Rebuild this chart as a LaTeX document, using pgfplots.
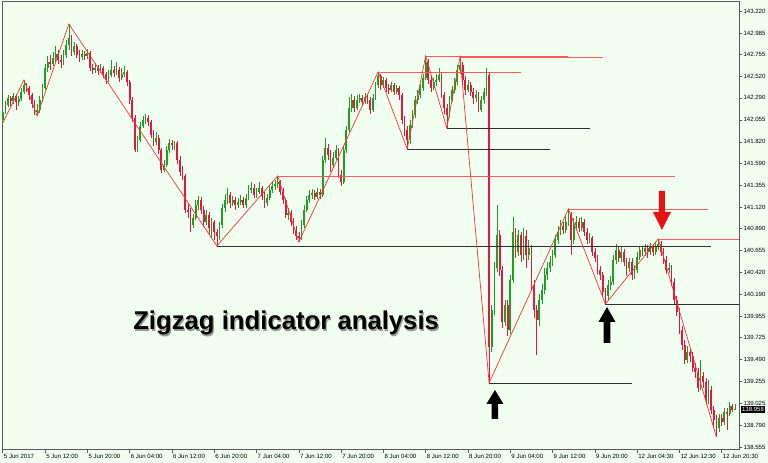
\documentclass[border=0pt]{standalone}
\usepackage{fontspec}
\setmainfont{Liberation Sans}
\usepackage{pgfplots}
\pgfplotsset{compat=1.18}
\usepackage{pgfplotstable}

\definecolor{bg}{HTML}{F0FFF0}
\definecolor{bull}{HTML}{219E21}
\definecolor{bear}{HTML}{E8163E}
\definecolor{arrowred}{HTML}{E81212}
\definecolor{zz}{HTML}{FF3030}
\definecolor{lvlred}{HTML}{FF5A5A}
\definecolor{lvlblk}{HTML}{303030}
\definecolor{axisgray}{HTML}{5A5A5A}

% GBPJPY M30 bars closing up: index, open, high, low, close
\pgfplotstableread{
i o h l c
0 142.054 142.172 142.022 142.140
1 142.140 142.257 142.118 142.215
2 142.215 142.322 142.193 142.289
4 142.257 142.343 142.225 142.311
6 142.247 142.311 142.204 142.279
7 142.279 142.396 142.257 142.354
8 142.354 142.482 142.332 142.429
13 142.140 142.225 142.097 142.161
14 142.161 142.311 142.129 142.268
15 142.268 142.439 142.247 142.396
16 142.396 142.653 142.375 142.610
17 142.610 142.739 142.568 142.675
19 142.653 142.782 142.632 142.717
20 142.717 142.846 142.675 142.760
23 142.675 142.803 142.643 142.750
24 142.750 142.910 142.717 142.857
25 142.857 143.081 142.803 142.931
27 142.782 142.889 142.750 142.846
30 142.728 142.803 142.696 142.760
32 142.739 142.814 142.707 142.771
35 142.589 142.664 142.557 142.610
37 142.578 142.653 142.557 142.610
40 142.482 142.589 142.461 142.536
41 142.536 142.696 142.514 142.589
43 142.557 142.675 142.536 142.589
45 142.503 142.610 142.482 142.546
46 142.546 142.632 142.514 142.568
51 141.733 141.883 141.712 141.840
52 141.840 142.032 141.819 141.990
53 141.990 142.097 141.968 142.054
54 142.054 142.118 142.011 142.075
58 141.819 141.926 141.787 141.861
61 141.519 141.626 141.498 141.573
62 141.573 141.776 141.551 141.733
63 141.733 141.851 141.701 141.808
65 141.787 141.829 141.733 141.808
72 140.931 141.048 140.898 141.005
73 141.005 141.198 140.984 141.145
74 141.145 141.241 141.091 141.198
77 140.963 141.091 140.931 141.038
79 140.898 141.005 140.791 140.963
82 140.813 140.963 140.770 140.931
83 140.931 141.155 140.898 141.112
84 141.112 141.262 141.070 141.198
85 141.198 141.326 141.155 141.252
87 141.166 141.241 141.134 141.198
89 141.145 141.219 141.112 141.177
90 141.177 141.252 141.145 141.198
92 141.145 141.262 141.112 141.219
93 141.219 141.359 141.198 141.305
94 141.305 141.391 141.273 141.326
96 141.252 141.326 141.219 141.284
97 141.284 141.391 141.262 141.326
100 141.166 141.262 141.134 141.219
101 141.219 141.348 141.198 141.305
102 141.305 141.391 141.273 141.348
103 141.348 141.412 141.305 141.369
104 141.369 141.455 141.326 141.391
108 141.038 141.112 140.984 141.059
113 140.791 140.984 140.770 140.931
114 140.931 141.145 140.898 141.091
115 141.091 141.241 141.070 141.198
116 141.198 141.305 141.166 141.252
117 141.252 141.316 141.209 141.273
119 141.230 141.326 141.209 141.284
121 141.252 141.669 141.230 141.626
122 141.626 141.861 141.594 141.754
125 141.573 141.712 141.540 141.647
126 141.647 141.787 141.626 141.733
129 141.391 141.776 141.369 141.733
130 141.733 141.990 141.701 141.947
131 141.947 142.300 141.926 142.182
132 142.182 142.332 142.140 142.268
134 142.182 142.322 142.161 142.268
135 142.268 142.332 142.236 142.289
137 142.247 142.343 142.225 142.300
140 142.161 142.332 142.140 142.289
141 142.289 142.461 142.268 142.429
142 142.429 142.568 142.396 142.525
144 142.429 142.514 142.396 142.482
147 142.375 142.461 142.354 142.429
149 142.354 142.429 142.332 142.396
154 141.840 142.054 141.797 142.001
155 142.001 142.161 141.968 142.108
156 142.108 142.311 142.075 142.268
157 142.268 142.375 142.225 142.322
158 142.322 142.439 142.289 142.396
159 142.396 142.546 142.364 142.503
160 142.503 142.739 142.482 142.675
163 142.396 142.503 142.375 142.461
164 142.461 142.546 142.418 142.482
165 142.482 142.610 142.461 142.536
169 142.108 142.311 142.075 142.268
170 142.268 142.418 142.247 142.375
171 142.375 142.503 142.343 142.461
172 142.461 142.643 142.429 142.589
173 142.589 142.728 142.546 142.643
176 142.375 142.482 142.354 142.429
179 142.289 142.375 142.247 142.322
181 142.161 142.311 142.140 142.268
182 142.268 142.396 142.225 142.354
183 142.354 142.610 142.311 142.536
185 139.625 140.075 139.572 140.021
186 140.021 140.535 139.968 140.470
187 140.470 141.145 140.428 140.824
190 139.893 140.128 139.850 140.075
192 139.807 140.396 139.764 140.342
193 140.342 141.016 140.310 140.856
195 140.642 140.877 140.599 140.824
197 140.610 140.898 140.556 140.813
199 140.610 140.770 140.556 140.684
203 139.914 140.192 139.850 140.128
204 140.128 140.299 140.085 140.235
205 140.235 140.470 140.192 140.396
206 140.396 140.535 140.342 140.470
207 140.470 140.599 140.428 140.535
208 140.535 140.663 140.492 140.610
209 140.610 140.824 140.577 140.770
210 140.770 140.920 140.727 140.856
211 140.856 140.984 140.824 140.920
213 140.877 141.027 140.845 140.963
214 140.963 141.102 140.920 141.048
216 140.770 141.005 140.727 140.931
217 140.931 141.027 140.877 140.963
219 140.898 141.016 140.866 140.963
222 140.770 140.845 140.738 140.791
229 140.171 140.342 140.128 140.289
230 140.289 140.385 140.235 140.321
231 140.321 140.610 140.289 140.556
232 140.556 140.727 140.513 140.663
234 140.577 140.695 140.535 140.642
237 140.470 140.577 140.428 140.535
239 140.396 140.503 140.353 140.449
240 140.449 140.642 140.417 140.588
241 140.588 140.706 140.556 140.663
243 140.642 140.727 140.599 140.684
245 140.642 140.738 140.610 140.695
247 140.642 140.749 140.610 140.706
248 140.706 140.781 140.663 140.727
252 140.449 140.524 140.417 140.470
259 139.486 139.636 139.454 139.572
264 139.186 139.486 139.165 139.315
267 139.058 139.272 139.015 139.165
271 138.758 138.908 138.716 138.865
273 138.823 138.972 138.791 138.930
275 138.908 139.037 138.887 138.994
277 138.954 139.016 138.950 138.958
}\bullbars

% GBPJPY M30 bars closing down
\pgfplotstableread{
i o h l c
3 142.289 142.311 142.204 142.257
5 142.311 142.332 142.161 142.247
9 142.429 142.450 142.354 142.396
10 142.396 142.418 142.268 142.322
11 142.322 142.343 142.182 142.225
12 142.225 142.268 142.108 142.140
18 142.675 142.750 142.589 142.653
21 142.760 142.803 142.653 142.696
22 142.696 142.750 142.610 142.675
26 142.931 142.964 142.739 142.782
28 142.846 142.867 142.717 142.750
29 142.750 142.803 142.675 142.728
31 142.760 142.792 142.696 142.739
33 142.771 142.792 142.578 142.610
34 142.610 142.653 142.546 142.589
36 142.610 142.643 142.536 142.578
38 142.610 142.632 142.503 142.546
39 142.546 142.568 142.439 142.482
42 142.589 142.632 142.514 142.557
44 142.589 142.621 142.461 142.503
47 142.568 142.589 142.418 142.461
48 142.461 142.482 142.225 142.268
49 142.268 142.300 142.032 142.075
50 142.075 142.108 141.712 141.733
55 142.075 142.108 141.990 142.032
56 142.032 142.054 141.861 141.894
57 141.894 141.947 141.776 141.819
59 141.861 141.894 141.690 141.733
60 141.733 141.754 141.487 141.519
64 141.808 141.840 141.733 141.787
66 141.808 141.829 141.583 141.626
67 141.626 141.669 141.455 141.498
68 141.498 141.562 141.412 141.455
69 141.455 141.476 141.059 141.091
70 141.091 141.155 141.005 141.070
71 141.070 141.112 140.856 140.931
75 141.198 141.230 141.048 141.091
76 141.091 141.134 140.909 140.963
78 141.038 141.070 140.834 140.898
80 140.963 140.984 140.770 140.856
81 140.856 140.888 140.706 140.813
86 141.252 141.284 141.112 141.166
88 141.198 141.230 141.091 141.145
91 141.198 141.230 141.112 141.145
95 141.326 141.369 141.219 141.252
98 141.326 141.348 141.198 141.241
99 141.241 141.284 141.112 141.166
105 141.391 141.412 141.252 141.284
106 141.284 141.326 141.155 141.198
107 141.198 141.219 141.005 141.038
109 141.059 141.091 140.920 140.963
110 140.963 141.005 140.834 140.877
111 140.877 140.920 140.770 140.813
112 140.813 140.856 140.749 140.791
118 141.273 141.305 141.198 141.230
120 141.284 141.316 141.209 141.252
123 141.754 141.797 141.626 141.680
124 141.680 141.733 141.498 141.573
127 141.733 141.754 141.433 141.465
128 141.465 141.519 141.348 141.391
133 142.268 142.311 142.140 142.182
136 142.289 142.322 142.204 142.247
138 142.300 142.332 142.225 142.268
139 142.268 142.300 142.118 142.161
143 142.525 142.546 142.375 142.429
145 142.482 142.503 142.354 142.396
146 142.396 142.439 142.332 142.375
148 142.429 142.450 142.322 142.354
150 142.396 142.418 142.268 142.322
151 142.322 142.343 142.011 142.054
152 142.054 142.097 141.883 141.947
153 141.947 141.990 141.744 141.840
161 142.675 142.707 142.439 142.482
162 142.482 142.525 142.354 142.396
166 142.536 142.568 142.289 142.322
167 142.322 142.354 142.118 142.182
168 142.182 142.225 141.968 142.108
174 142.643 142.675 142.439 142.482
175 142.482 142.525 142.322 142.375
177 142.429 142.461 142.311 142.354
178 142.354 142.396 142.225 142.289
180 142.322 142.354 142.140 142.161
184 142.536 142.557 139.240 139.625
188 140.824 140.877 140.385 140.449
189 140.449 140.492 139.828 139.893
191 140.075 140.128 139.743 139.807
194 140.856 140.898 140.577 140.642
196 140.824 140.856 140.535 140.610
198 140.813 140.877 140.470 140.610
200 140.684 140.717 140.235 140.289
201 140.289 140.342 139.936 140.021
202 140.021 140.075 139.540 139.914
212 140.920 140.963 140.834 140.877
215 141.048 141.070 140.610 140.770
218 140.963 141.005 140.856 140.898
220 140.963 140.995 140.813 140.856
221 140.856 140.898 140.727 140.770
223 140.791 140.813 140.599 140.642
224 140.642 140.684 140.535 140.577
225 140.577 140.610 140.406 140.449
226 140.449 140.492 140.342 140.396
227 140.396 140.428 140.171 140.214
228 140.214 140.256 140.085 140.171
233 140.663 140.706 140.535 140.577
235 140.642 140.674 140.492 140.535
236 140.535 140.577 140.385 140.470
238 140.535 140.577 140.342 140.396
242 140.663 140.706 140.599 140.642
244 140.684 140.717 140.577 140.642
246 140.695 140.727 140.599 140.642
249 140.727 140.759 140.599 140.642
250 140.642 140.684 140.513 140.556
251 140.556 140.599 140.406 140.449
253 140.470 140.503 140.278 140.321
254 140.321 140.363 140.085 140.128
255 140.128 140.171 139.957 140.000
256 140.000 140.042 139.764 139.807
257 139.807 139.850 139.593 139.647
258 139.647 139.700 139.443 139.486
260 139.572 139.614 139.465 139.529
261 139.529 139.572 139.358 139.400
262 139.400 139.454 139.293 139.358
263 139.358 139.400 139.144 139.186
265 139.315 139.358 139.186 139.251
266 139.251 139.293 139.005 139.058
268 139.165 139.208 138.908 138.951
269 138.951 138.994 138.758 138.844
270 138.844 138.898 138.662 138.758
272 138.865 138.908 138.780 138.823
274 138.930 138.972 138.737 138.908
276 138.994 139.015 138.930 138.951
}\bearbars

% zigzag turning points
\pgfplotstableread{
i p
0 142.022
8 142.482
13 142.097
25 143.081
81 140.706
104 141.455
112 140.749
142 142.568
153 141.744
160 142.739
168 141.968
173 142.728
184 139.240
214 141.102
228 140.085
248 140.781
270 138.662
}\zzpoints

\begin{document}
\begin{tikzpicture}
\fill[bg] (0,0) rectangle (768bp,463bp);
\useasboundingbox (0,0) rectangle (768bp,463bp);
% header
\fill[black] (4bp,458bp) -- (8.5bp,458bp) -- (6.25bp,455bp) -- cycle;
\node[anchor=west, inner sep=0pt, font=\fontsize{6.1}{7}\selectfont, text=black] at (12.5bp,456.5bp)
  {GBPJPY,M30\hspace{3bp} 138.954 139.016 138.950 138.958};
\begin{axis}[
  at={(2bp,13.5bp)}, anchor=south west,
  scale only axis, width=737.3bp, height=448.5bp,
  xmin=-0.3, xmax=278.66, ymin=138.528, ymax=143.327,
  axis background/.style={fill=bg},
  axis line style={axisgray, line width=0.8bp},
  clip=false,
  tick align=outside, major tick length=3bp,
  every tick/.style={axisgray, line width=0.6bp},
  xtick pos=bottom, ytick pos=right, yticklabel pos=right,
  xtick={0,16,...,272},
  xticklabels={5 Jun 2017,5 Jun 12:00,5 Jun 20:00,6 Jun 04:00,6 Jun 12:00,6 Jun 20:00,7 Jun 04:00,7 Jun 12:00,7 Jun 20:00,8 Jun 04:00,8 Jun 12:00,8 Jun 20:00,9 Jun 04:00,9 Jun 12:00,9 Jun 20:00,12 Jun 04:30,12 Jun 12:30,12 Jun 20:30},
  xticklabel style={anchor=north west, inner sep=0pt, xshift=1bp, yshift=-1.5bp, font=\fontsize{6.1}{7}\selectfont, text=black},
  ytick={138.555,138.790,139.025,139.255,139.490,139.725,139.955,140.190,140.420,140.655,140.890,141.120,141.355,141.590,141.820,142.055,142.290,142.520,142.755,142.985,143.220},
  yticklabels={138.555,138.790,139.025,139.255,139.490,139.725,139.955,140.190,140.420,140.655,140.890,141.120,141.355,141.590,141.820,142.055,142.290,142.520,142.755,142.985,143.220},
  yticklabel style={anchor=west, inner sep=0pt, xshift=1bp, font=\fontsize{6.1}{7}\selectfont, text=black},
]
% wicks
\addplot[draw=none, mark=none, forget plot,
  error bars/.cd, y dir=both, y explicit, error mark=none,
  error bar style={draw=bull, line width=0.6bp}]
  table[x=i, y expr={(\thisrow{h}+\thisrow{l})/2}, y error expr={(\thisrow{h}-\thisrow{l})/2}] {\bullbars};
\addplot[draw=none, mark=none, forget plot,
  error bars/.cd, y dir=both, y explicit, error mark=none,
  error bar style={draw=bear, line width=0.6bp}]
  table[x=i, y expr={(\thisrow{h}+\thisrow{l})/2}, y error expr={(\thisrow{h}-\thisrow{l})/2}] {\bearbars};
% bodies
\addplot[draw=none, mark=none, forget plot,
  error bars/.cd, y dir=both, y explicit, error mark=none,
  error bar style={draw=bull, line width=1.8bp}]
  table[x=i, y expr={(\thisrow{o}+\thisrow{c})/2}, y error expr={max(abs(\thisrow{c}-\thisrow{o})/2,0.003)}] {\bullbars};
\addplot[draw=none, mark=none, forget plot,
  error bars/.cd, y dir=both, y explicit, error mark=none,
  error bar style={draw=bear, line width=1.8bp}]
  table[x=i, y expr={(\thisrow{o}+\thisrow{c})/2}, y error expr={max(abs(\thisrow{c}-\thisrow{o})/2,0.003)}] {\bearbars};
% level lines
\addplot[lvlred, line width=0.8bp, forget plot] coordinates {(104,141.455) (254.3,141.455)};
\addplot[lvlred, line width=0.8bp, forget plot] coordinates {(142,142.568) (196.1,142.568)};
\addplot[lvlred, line width=0.8bp, forget plot] coordinates {(160,142.739) (213.9,142.739)};
\addplot[lvlred, line width=0.8bp, forget plot] coordinates {(173,142.728) (227.1,142.728)};
\addplot[lvlred, line width=0.8bp, forget plot] coordinates {(214,141.102) (266.8,141.102)};
\addplot[lvlred, line width=0.8bp, forget plot] coordinates {(248,140.781) (278.66,140.781)};
\addplot[lvlblk, line width=0.8bp, forget plot] coordinates {(81,140.706) (268,140.706)};
\addplot[lvlblk, line width=0.8bp, forget plot] coordinates {(153,141.744) (207,141.744)};
\addplot[lvlblk, line width=0.8bp, forget plot] coordinates {(168,141.968) (222.2,141.968)};
\addplot[lvlblk, line width=0.8bp, forget plot] coordinates {(184,139.240) (238.1,139.240)};
\addplot[lvlblk, line width=0.8bp, forget plot] coordinates {(228,140.085) (278.66,140.085)};
% zigzag
\addplot[zz, line width=0.7bp, mark=none] table[x=i, y=p] {\zzpoints};
% arrows (offsets in bp on both components)
\fill[black] (axis cs:186.2,139.165) -- ++(8.5bp,-14bp) -- ++(-5.2bp,0bp) -- ++(0bp,-15bp)
  -- ++(-6.6bp,0bp) -- ++(0bp,15bp) -- ++(-5.2bp,0bp) -- cycle;
\fill[black] (axis cs:228.6,140.053) -- ++(8.5bp,-15bp) -- ++(-5.2bp,0bp) -- ++(0bp,-21bp)
  -- ++(-6.6bp,0bp) -- ++(0bp,21bp) -- ++(-5.2bp,0bp) -- cycle;
\fill[arrowred] (axis cs:249.4,140.877) -- ++(9bp,18bp) -- ++(-6bp,0bp) -- ++(0bp,21bp)
  -- ++(-6bp,0bp) -- ++(0bp,-21bp) -- ++(-6bp,0bp) -- cycle;
% caption
\node[anchor=base west, inner sep=0pt, text=black!40, font=\fontsize{25.8}{30}\selectfont\bfseries]
  at ([xshift=1.2bp,yshift=-1.4bp]axis cs:49.3,139.807) {Zigzag indicator analysis};
\node[anchor=base west, inner sep=0pt, text=black, font=\fontsize{25.8}{30}\selectfont\bfseries]
  at (axis cs:49.3,139.807) {Zigzag indicator analysis};
% current price tag
\node[anchor=west, fill=black, text=white, inner xsep=1bp, inner ysep=1.2bp, font=\fontsize{6.1}{7}\selectfont]
  at ([xshift=1.5bp]axis cs:278.66,138.958) {138.958};
\end{axis}
\end{tikzpicture}
\end{document}
